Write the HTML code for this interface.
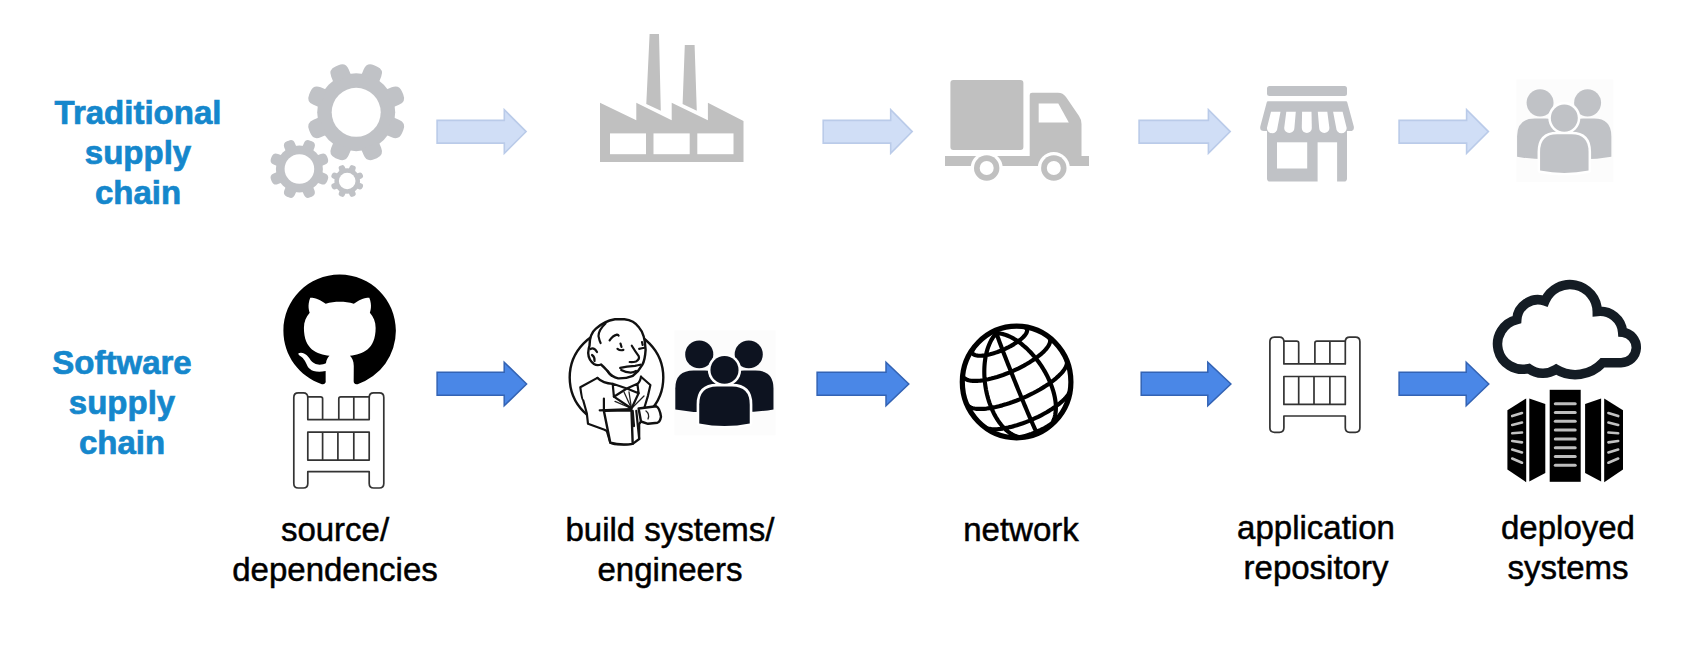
<!DOCTYPE html>
<html><head><meta charset="utf-8"><title>Supply chain</title>
<style>
html,body{margin:0;padding:0;background:#fff;}
body{width:1708px;height:662px;position:relative;overflow:hidden;font-family:"Liberation Sans",sans-serif;}
.t{position:absolute;text-align:center;font-size:33px;line-height:40px;white-space:nowrap;}
.h{font-weight:bold;color:#1587cc;-webkit-text-stroke:0.7px #1587cc;}
.l{color:#000;-webkit-text-stroke:0.5px #000;}
svg{position:absolute;left:0;top:0;}
</style></head><body>
<svg width="1708" height="662" viewBox="0 0 1708 662">
<circle cx="356.2" cy="112.3" r="39" fill="#c0c2c6"/>
<path d="M-9.5,-36 L-9.48,-42.34 Q-9.48,-50.3 -1.52,-50.3 L1.52,-50.3 Q9.48,-50.3 9.48,-42.34 L9.5,-36 Z" fill="#c0c2c6" transform="translate(356.2,112.3) rotate(22.5)"/>
<path d="M-9.5,-36 L-9.48,-42.34 Q-9.48,-50.3 -1.52,-50.3 L1.52,-50.3 Q9.48,-50.3 9.48,-42.34 L9.5,-36 Z" fill="#c0c2c6" transform="translate(356.2,112.3) rotate(67.5)"/>
<path d="M-9.5,-36 L-9.48,-42.34 Q-9.48,-50.3 -1.52,-50.3 L1.52,-50.3 Q9.48,-50.3 9.48,-42.34 L9.5,-36 Z" fill="#c0c2c6" transform="translate(356.2,112.3) rotate(112.5)"/>
<path d="M-9.5,-36 L-9.48,-42.34 Q-9.48,-50.3 -1.52,-50.3 L1.52,-50.3 Q9.48,-50.3 9.48,-42.34 L9.5,-36 Z" fill="#c0c2c6" transform="translate(356.2,112.3) rotate(157.5)"/>
<path d="M-9.5,-36 L-9.48,-42.34 Q-9.48,-50.3 -1.52,-50.3 L1.52,-50.3 Q9.48,-50.3 9.48,-42.34 L9.5,-36 Z" fill="#c0c2c6" transform="translate(356.2,112.3) rotate(202.5)"/>
<path d="M-9.5,-36 L-9.48,-42.34 Q-9.48,-50.3 -1.52,-50.3 L1.52,-50.3 Q9.48,-50.3 9.48,-42.34 L9.5,-36 Z" fill="#c0c2c6" transform="translate(356.2,112.3) rotate(247.5)"/>
<path d="M-9.5,-36 L-9.48,-42.34 Q-9.48,-50.3 -1.52,-50.3 L1.52,-50.3 Q9.48,-50.3 9.48,-42.34 L9.5,-36 Z" fill="#c0c2c6" transform="translate(356.2,112.3) rotate(292.5)"/>
<path d="M-9.5,-36 L-9.48,-42.34 Q-9.48,-50.3 -1.52,-50.3 L1.52,-50.3 Q9.48,-50.3 9.48,-42.34 L9.5,-36 Z" fill="#c0c2c6" transform="translate(356.2,112.3) rotate(337.5)"/>
<circle cx="356.2" cy="112.3" r="24.5" fill="#fff"/>
<circle cx="299.4" cy="169" r="23.5" fill="#c0c2c6"/>
<path d="M-5.72,-20.5 L-5.71,-25.5 Q-5.71,-30.3 -0.91,-30.3 L0.91,-30.3 Q5.71,-30.3 5.71,-25.5 L5.72,-20.5 Z" fill="#c0c2c6" transform="translate(299.4,169) rotate(22.5)"/>
<path d="M-5.72,-20.5 L-5.71,-25.5 Q-5.71,-30.3 -0.91,-30.3 L0.91,-30.3 Q5.71,-30.3 5.71,-25.5 L5.72,-20.5 Z" fill="#c0c2c6" transform="translate(299.4,169) rotate(67.5)"/>
<path d="M-5.72,-20.5 L-5.71,-25.5 Q-5.71,-30.3 -0.91,-30.3 L0.91,-30.3 Q5.71,-30.3 5.71,-25.5 L5.72,-20.5 Z" fill="#c0c2c6" transform="translate(299.4,169) rotate(112.5)"/>
<path d="M-5.72,-20.5 L-5.71,-25.5 Q-5.71,-30.3 -0.91,-30.3 L0.91,-30.3 Q5.71,-30.3 5.71,-25.5 L5.72,-20.5 Z" fill="#c0c2c6" transform="translate(299.4,169) rotate(157.5)"/>
<path d="M-5.72,-20.5 L-5.71,-25.5 Q-5.71,-30.3 -0.91,-30.3 L0.91,-30.3 Q5.71,-30.3 5.71,-25.5 L5.72,-20.5 Z" fill="#c0c2c6" transform="translate(299.4,169) rotate(202.5)"/>
<path d="M-5.72,-20.5 L-5.71,-25.5 Q-5.71,-30.3 -0.91,-30.3 L0.91,-30.3 Q5.71,-30.3 5.71,-25.5 L5.72,-20.5 Z" fill="#c0c2c6" transform="translate(299.4,169) rotate(247.5)"/>
<path d="M-5.72,-20.5 L-5.71,-25.5 Q-5.71,-30.3 -0.91,-30.3 L0.91,-30.3 Q5.71,-30.3 5.71,-25.5 L5.72,-20.5 Z" fill="#c0c2c6" transform="translate(299.4,169) rotate(292.5)"/>
<path d="M-5.72,-20.5 L-5.71,-25.5 Q-5.71,-30.3 -0.91,-30.3 L0.91,-30.3 Q5.71,-30.3 5.71,-25.5 L5.72,-20.5 Z" fill="#c0c2c6" transform="translate(299.4,169) rotate(337.5)"/>
<circle cx="299.4" cy="169" r="14.8" fill="#fff"/>
<circle cx="347.2" cy="181" r="12.8" fill="#c0c2c6"/>
<path d="M-3.12,-9.8 L-3.15,-14.06 Q-3.15,-16.7 -0.5,-16.7 L0.5,-16.7 Q3.15,-16.7 3.15,-14.06 L3.12,-9.8 Z" fill="#c0c2c6" transform="translate(347.2,181) rotate(22.5)"/>
<path d="M-3.12,-9.8 L-3.15,-14.06 Q-3.15,-16.7 -0.5,-16.7 L0.5,-16.7 Q3.15,-16.7 3.15,-14.06 L3.12,-9.8 Z" fill="#c0c2c6" transform="translate(347.2,181) rotate(67.5)"/>
<path d="M-3.12,-9.8 L-3.15,-14.06 Q-3.15,-16.7 -0.5,-16.7 L0.5,-16.7 Q3.15,-16.7 3.15,-14.06 L3.12,-9.8 Z" fill="#c0c2c6" transform="translate(347.2,181) rotate(112.5)"/>
<path d="M-3.12,-9.8 L-3.15,-14.06 Q-3.15,-16.7 -0.5,-16.7 L0.5,-16.7 Q3.15,-16.7 3.15,-14.06 L3.12,-9.8 Z" fill="#c0c2c6" transform="translate(347.2,181) rotate(157.5)"/>
<path d="M-3.12,-9.8 L-3.15,-14.06 Q-3.15,-16.7 -0.5,-16.7 L0.5,-16.7 Q3.15,-16.7 3.15,-14.06 L3.12,-9.8 Z" fill="#c0c2c6" transform="translate(347.2,181) rotate(202.5)"/>
<path d="M-3.12,-9.8 L-3.15,-14.06 Q-3.15,-16.7 -0.5,-16.7 L0.5,-16.7 Q3.15,-16.7 3.15,-14.06 L3.12,-9.8 Z" fill="#c0c2c6" transform="translate(347.2,181) rotate(247.5)"/>
<path d="M-3.12,-9.8 L-3.15,-14.06 Q-3.15,-16.7 -0.5,-16.7 L0.5,-16.7 Q3.15,-16.7 3.15,-14.06 L3.12,-9.8 Z" fill="#c0c2c6" transform="translate(347.2,181) rotate(292.5)"/>
<path d="M-3.12,-9.8 L-3.15,-14.06 Q-3.15,-16.7 -0.5,-16.7 L0.5,-16.7 Q3.15,-16.7 3.15,-14.06 L3.12,-9.8 Z" fill="#c0c2c6" transform="translate(347.2,181) rotate(337.5)"/>
<circle cx="347.2" cy="181" r="8.3" fill="#fff"/>
<path d="M646.3,103.9 L649.6,34 L659,34 L660.8,110.8 Z M682.6,103.9 L684.8,45 L694.6,45 L696.8,110.8 Z" fill="#c0c0c0"/>
<path d="M600,102.7 L636.3,120.3 L636.3,102.7 L671.7,120.3 L671.7,102.7 L707.9,120.3 L707.9,102.7 L743.5,121 L743.5,162 L600,162 Z" fill="#c0c0c0"/>
<rect x="610" y="133.4" width="36" height="20.8" fill="#fff"/><rect x="653.5" y="133.4" width="36.2" height="20.8" fill="#fff"/><rect x="697.3" y="133.4" width="36.2" height="20.8" fill="#fff"/>
<rect x="950.4" y="80" width="73" height="70" rx="3" fill="#c0c0c0"/>
<path d="M1029.7,156 L1029.7,95 Q1029.7,92.7 1032,92.7 L1058,92.7 Q1063,92.7 1066,97 L1079,116 Q1081.5,119.5 1081.5,124 L1081.5,156 Z" fill="#c0c0c0"/>
<path d="M1038.7,103.5 L1058.3,103.5 L1068.8,122.6 L1038.7,122.6 Z" fill="#fff"/>
<rect x="945" y="156" width="144" height="10" fill="#c0c0c0"/>
<circle cx="986.7" cy="168" r="16" fill="#fff"/><circle cx="986.7" cy="168" r="12.7" fill="#c0c0c0"/><circle cx="986.7" cy="168" r="7" fill="#fff"/>
<circle cx="1053.8" cy="168" r="16" fill="#fff"/><circle cx="1053.8" cy="168" r="12.7" fill="#c0c0c0"/><circle cx="1053.8" cy="168" r="7" fill="#fff"/>
<rect x="1267" y="86" width="80" height="10" rx="2.5" fill="#c0c2c6"/>
<path d="M1268,101.2 L1346,101.2 Q1347,101.2 1347.3,102.5 L1353.8,126.5 Q1354.5,131 1350,131 L1347,131 L1347,178.5 Q1347,181.6 1344,181.6 L1270,181.6 Q1267,181.6 1267,178.5 L1267,131 L1264,131 Q1259.5,131 1260.3,126.5 L1266.7,102.5 Q1267,101.2 1268,101.2 Z" fill="#c0c2c6"/>
<path d="M1271,111.7 L1280.5,111.7 L1277.4,128 A5.25,5.25 0 0 1 1266.9,128 Z" fill="#fff"/>
<path d="M1286.3,111.7 L1295.8,111.7 L1294.4,128 A5.1,5.1 0 0 1 1284.2,128 Z" fill="#fff"/>
<path d="M1302.1,111.7 L1311.5,111.7 L1311.8,128 A5,5 0 0 1 1301.8,128 Z" fill="#fff"/>
<path d="M1317.8,111.7 L1327.3,111.7 L1329.4,128 A5.1,5.1 0 0 1 1319.2,128 Z" fill="#fff"/>
<path d="M1333.1,111.7 L1342.6,111.7 L1346.7,128 A5.25,5.25 0 0 1 1336.2,128 Z" fill="#fff"/>
<rect x="1277" y="142.3" width="30.2" height="26.2" fill="#fff"/>
<rect x="1317.6" y="142.3" width="19.5" height="40" fill="#fff"/>
<g transform="translate(1516.3,79.3) scale(0.97,0.98)"><rect x="0" y="0" width="100" height="105" fill="#fcfcfc"/><path d="M0.8,79 L0.8,58 Q0.8,40 19,40 L30,40 Q46,40 46,58 L46,81 Q22,83 0.8,79 Z" fill="#c0c2c6"/><path d="M53,81 L53,58 Q53,40 69,40 L80,40 Q98,40 98,58 L98,79 Q76,83 53,81 Z" fill="#c0c2c6"/><circle cx="24.5" cy="24" r="13.9" fill="#c0c2c6"/><circle cx="73.5" cy="24" r="13.9" fill="#c0c2c6"/><circle cx="49.5" cy="39.5" r="16.5" fill="#fff"/><path d="M24.5,93 L24.5,74 Q24.5,56 42,56 L57,56 Q74.5,56 74.5,74 L74.5,93 Q49.5,98 24.5,93 Z" fill="#fff" stroke="#fff" stroke-width="5.2" stroke-linejoin="round"/><circle cx="49.5" cy="39.5" r="13.9" fill="#c0c2c6"/><path d="M24.5,93 L24.5,74 Q24.5,56 42,56 L57,56 Q74.5,56 74.5,74 L74.5,93 Q49.5,98 24.5,93 Z" fill="#c0c2c6"/></g>
<path d="M437.1,120.4 L504.3,120.4 L504.3,109.8 L526.1,131.6 L504.3,153.4 L504.3,143.1 L437.1,143.1 Z" fill="#d0def6" stroke="#bacbe9" stroke-width="1.6" stroke-linejoin="miter"/>
<path d="M823.2,120.4 L890.7,120.4 L890.7,109.8 L912.2,131.6 L890.7,153.4 L890.7,143.1 L823.2,143.1 Z" fill="#d0def6" stroke="#bacbe9" stroke-width="1.6" stroke-linejoin="miter"/>
<path d="M1139.1,120.4 L1208.4,120.4 L1208.4,109.8 L1230.2,131.6 L1208.4,153.4 L1208.4,143.1 L1139.1,143.1 Z" fill="#d0def6" stroke="#bacbe9" stroke-width="1.6" stroke-linejoin="miter"/>
<path d="M1399.1,120.4 L1466.6,120.4 L1466.6,109.8 L1488.4,131.6 L1466.6,153.4 L1466.6,143.1 L1399.1,143.1 Z" fill="#d0def6" stroke="#bacbe9" stroke-width="1.6" stroke-linejoin="miter"/>
<path d="M437.1,372.2 L504.2,372.2 L504.2,362.2 L526.6,384 L504.2,405.8 L504.2,395.3 L437.1,395.3 Z" fill="#4a87e7" stroke="#3363b4" stroke-width="1.5" stroke-linejoin="miter"/>
<path d="M817.1,372.2 L886,372.2 L886,362.2 L908.8,384 L886,405.8 L886,395.3 L817.1,395.3 Z" fill="#4a87e7" stroke="#3363b4" stroke-width="1.5" stroke-linejoin="miter"/>
<path d="M1141.2,372.2 L1207.8,372.2 L1207.8,362.2 L1230.9,384 L1207.8,405.8 L1207.8,395.3 L1141.2,395.3 Z" fill="#4a87e7" stroke="#3363b4" stroke-width="1.5" stroke-linejoin="miter"/>
<path d="M1399.1,372.2 L1466.2,372.2 L1466.2,362.2 L1488.8,384 L1466.2,405.8 L1466.2,395.3 L1399.1,395.3 Z" fill="#4a87e7" stroke="#3363b4" stroke-width="1.5" stroke-linejoin="miter"/>
<path d="M8 0C3.58 0 0 3.58 0 8c0 3.54 2.29 6.53 5.47 7.59.4.07.55-.17.55-.38 0-.19-.01-.82-.01-1.49-2.01.37-2.53-.49-2.69-.94-.09-.23-.48-.94-.82-1.13-.28-.15-.68-.52-.01-.53.63-.01 1.08.58 1.23.82.72 1.21 1.87.87 2.33.66.07-.52.28-.87.51-1.07-1.78-.2-3.64-.89-3.64-3.95 0-.87.31-1.59.82-2.15-.08-.2-.36-1.02.08-2.12 0 0 .67-.21 2.2.82.64-.18 1.32-.27 2-.27.68 0 1.36.09 2 .27 1.53-1.04 2.2-.82 2.2-.82.44 1.1.16 1.92.08 2.12.51.56.82 1.27.82 2.15 0 3.07-1.87 3.75-3.65 3.95.29.25.54.73.54 1.48 0 1.07-.01 1.93-.01 2.2 0 .21.15.46.55.38A8.013 8.013 0 0016 8c0-4.42-3.58-8-8-8z" fill="#000" transform="translate(283.4,274.6) scale(7.03)"/>
<g transform="translate(293.6,392.6)" fill="none" stroke="#333" stroke-width="1.7" stroke-linejoin="round"><path d="M0.2,4.8 Q0.2,0.3 4.7,0.3 L9.7,0.3 Q14.2,0.3 14.2,4.8 L14.2,27 L75.6,27 L75.6,4.8 Q75.6,0.3 80.1,0.3 L85.7,0.3 Q90.2,0.3 90.2,4.8 L90.2,90.9 Q90.2,95.4 85.7,95.4 L80.1,95.4 Q75.6,95.4 75.6,90.9 L75.6,79.1 L14.2,79.1 L14.2,90.9 Q14.2,95.4 9.7,95.4 L4.7,95.4 Q0.2,95.4 0.2,90.9 Z"/><path d="M14.2,4.2 L27,4.2 Q29,4.2 29,6.2 L29,27 M45.2,27 L45.2,6.2 Q45.2,4.2 47.2,4.2 L75.6,4.2 M60.2,4.2 L60.2,27 M14.2,39.6 L75.6,39.6 L75.6,67.5 L14.2,67.5 Z M29,39.6 L29,67.5 M44.3,39.6 L44.3,67.5 M60.2,39.6 L60.2,67.5"/></g>
<g transform="translate(1269.7,336.9)" fill="none" stroke="#333" stroke-width="1.7" stroke-linejoin="round"><path d="M0.2,4.8 Q0.2,0.3 4.7,0.3 L9.7,0.3 Q14.2,0.3 14.2,4.8 L14.2,27 L75.6,27 L75.6,4.8 Q75.6,0.3 80.1,0.3 L85.7,0.3 Q90.2,0.3 90.2,4.8 L90.2,90.9 Q90.2,95.4 85.7,95.4 L80.1,95.4 Q75.6,95.4 75.6,90.9 L75.6,79.1 L14.2,79.1 L14.2,90.9 Q14.2,95.4 9.7,95.4 L4.7,95.4 Q0.2,95.4 0.2,90.9 Z"/><path d="M14.2,4.2 L27,4.2 Q29,4.2 29,6.2 L29,27 M45.2,27 L45.2,6.2 Q45.2,4.2 47.2,4.2 L75.6,4.2 M60.2,4.2 L60.2,27 M14.2,39.6 L75.6,39.6 L75.6,67.5 L14.2,67.5 Z M29,39.6 L29,67.5 M44.3,39.6 L44.3,67.5 M60.2,39.6 L60.2,67.5"/></g>
<g transform="translate(674.5,330.4) scale(1.01,1)"><rect x="0" y="0" width="100" height="105" fill="#fcfcfc"/><path d="M0.8,79 L0.8,58 Q0.8,40 19,40 L30,40 Q46,40 46,58 L46,81 Q22,83 0.8,79 Z" fill="#0d1320"/><path d="M53,81 L53,58 Q53,40 69,40 L80,40 Q98,40 98,58 L98,79 Q76,83 53,81 Z" fill="#0d1320"/><circle cx="24.5" cy="24" r="13.9" fill="#0d1320"/><circle cx="73.5" cy="24" r="13.9" fill="#0d1320"/><circle cx="49.5" cy="39.5" r="16.5" fill="#fff"/><path d="M24.5,93 L24.5,74 Q24.5,56 42,56 L57,56 Q74.5,56 74.5,74 L74.5,93 Q49.5,98 24.5,93 Z" fill="#fff" stroke="#fff" stroke-width="5.2" stroke-linejoin="round"/><circle cx="49.5" cy="39.5" r="13.9" fill="#0d1320"/><path d="M24.5,93 L24.5,74 Q24.5,56 42,56 L57,56 Q74.5,56 74.5,74 L74.5,93 Q49.5,98 24.5,93 Z" fill="#0d1320"/></g>
<path d="M1025.86,436.98 L1024.77,437.15 L1023.68,437.24 L1022.57,437.28 L1021.46,437.24 L1020.34,437.13 L1019.22,436.96 L1018.1,436.72 L1016.97,436.42 L1015.84,436.05 L1014.72,435.61 L1013.59,435.11 L1012.47,434.54 L1011.35,433.91 L1010.25,433.21 L1009.14,432.46 L1008.05,431.64 L1006.97,430.76 L1005.9,429.82 L1004.84,428.82 L1003.8,427.77 L1002.77,426.66 L1001.76,425.5 L1000.77,424.28 L999.8,423.01 L998.84,421.69 L997.91,420.33 L997,418.91 L996.12,417.46 L995.26,415.95 L994.43,414.41 L993.62,412.83 L992.84,411.21 L992.09,409.55 L991.37,407.87 L990.68,406.14 L990.03,404.39 L989.4,402.62 L988.81,400.81 L988.25,398.99 L987.73,397.14 L987.24,395.28 L986.79,393.4 L986.37,391.5 L985.99,389.6 L985.65,387.68 L985.35,385.76 L985.08,383.83 L984.85,381.9 L984.66,379.97 L984.51,378.05 L984.4,376.13 L984.33,374.21 L984.3,372.31 L984.31,370.41 L984.35,368.53 L984.44,366.67 L984.56,364.83 L984.72,363 L984.93,361.2 L985.17,359.43 L985.45,357.68 L985.76,355.96 L986.12,354.28 L986.51,352.63 L986.94,351.01 L987.41,349.43 L987.91,347.89 L988.44,346.4 L989.01,344.94 L989.61,343.53 L990.25,342.17 L990.92,340.86 L991.62,339.59 L992.35,338.38 L993.11,337.22 L993.9,336.12 L994.71,335.07 L995.55,334.08 L996.42,333.15 M1037.41,433.54 L1037.36,433.53 L1037.27,433.45 L1037.17,433.31 L1037.04,433.11 L1036.88,432.85 L1036.7,432.52 L1036.49,432.14 L1036.26,431.69 L1036.01,431.18 L1035.73,430.61 L1035.43,429.99 L1035.11,429.3 L1034.76,428.56 L1034.39,427.76 L1034,426.9 L1033.59,425.99 L1033.16,425.03 L1032.7,424.01 L1032.23,422.94 L1031.74,421.83 L1031.23,420.66 L1030.7,419.45 L1030.16,418.19 L1029.6,416.89 L1029.02,415.54 L1028.43,414.15 L1027.82,412.73 L1027.2,411.27 L1026.57,409.77 L1025.93,408.24 L1025.27,406.67 L1024.6,405.08 L1023.93,403.45 L1023.24,401.81 L1022.55,400.13 L1021.85,398.44 L1021.14,396.72 L1020.43,394.99 L1019.71,393.24 L1018.99,391.48 L1018.26,389.71 L1017.54,387.92 L1016.81,386.13 L1016.08,384.34 L1015.35,382.54 L1014.63,380.74 L1013.9,378.94 L1013.18,377.15 L1012.47,375.36 L1011.76,373.58 L1011.05,371.81 L1010.36,370.05 L1009.67,368.31 L1008.98,366.58 L1008.31,364.88 L1007.65,363.19 L1007,361.53 L1006.36,359.89 L1005.73,358.28 L1005.11,356.7 L1004.51,355.14 L1003.93,353.63 L1003.36,352.14 L1002.8,350.69 L1002.27,349.28 L1001.75,347.91 L1001.25,346.58 L1000.76,345.3 L1000.3,344.06 L999.86,342.86 L999.43,341.72 L999.03,340.62 L998.65,339.57 L998.29,338.58 L997.95,337.63 L997.64,336.75 L997.35,335.91 L997.08,335.14 L996.84,334.42 L996.62,333.75 L996.42,333.15 M1047.94,427.57 L1048.75,426.92 L1049.52,426.23 L1050.24,425.48 L1050.93,424.67 L1051.58,423.82 L1052.18,422.91 L1052.74,421.95 L1053.26,420.94 L1053.73,419.89 L1054.15,418.79 L1054.53,417.65 L1054.87,416.46 L1055.16,415.23 L1055.4,413.96 L1055.59,412.65 L1055.74,411.31 L1055.83,409.92 L1055.88,408.51 L1055.89,407.06 L1055.84,405.58 L1055.75,404.07 L1055.61,402.54 L1055.42,400.98 L1055.18,399.4 L1054.9,397.79 L1054.57,396.17 L1054.19,394.53 L1053.77,392.87 L1053.31,391.2 L1052.79,389.52 L1052.24,387.83 L1051.64,386.14 L1051,384.44 L1050.31,382.73 L1049.59,381.03 L1048.82,379.32 L1048.02,377.62 L1047.18,375.93 L1046.3,374.24 L1045.38,372.56 L1044.43,370.89 L1043.45,369.24 L1042.43,367.6 L1041.38,365.98 L1040.3,364.38 L1039.19,362.8 L1038.06,361.24 L1036.89,359.71 L1035.71,358.21 L1034.5,356.73 L1033.27,355.29 L1032.01,353.88 L1030.74,352.5 L1029.46,351.16 L1028.15,349.86 L1026.83,348.59 L1025.5,347.37 L1024.16,346.19 L1022.81,345.05 L1021.46,343.96 L1020.09,342.91 L1018.72,341.91 L1017.35,340.96 L1015.98,340.06 L1014.61,339.21 L1013.24,338.41 L1011.88,337.67 L1010.52,336.98 L1009.17,336.35 L1007.83,335.77 L1006.5,335.24 L1005.18,334.78 L1003.87,334.37 L1002.58,334.02 L1001.31,333.73 L1000.06,333.49 L998.82,333.32 L997.61,333.21 L996.42,333.15 M1011.73,437.58 L1012.95,437.65 L1014.27,437.65 L1015.68,437.58 L1017.18,437.44 L1018.76,437.22 L1020.41,436.94 L1022.13,436.59 L1023.9,436.18 L1025.71,435.7 L1027.57,435.15 L1029.45,434.55 L1031.36,433.89 L1033.27,433.18 L1035.19,432.42 L1037.09,431.61 L1038.98,430.76 L1040.85,429.88 L1042.68,428.96 L1044.46,428.01 L1046.19,427.03 L1047.86,426.04 L1049.46,425.03 L1050.98,424.01 L1052.41,422.98 L1053.76,421.96 L1055,420.94 L1056.14,419.93 L1057.17,418.93 L1058.09,417.96 L1058.88,417.01 M984.33,426.87 L985.35,427.54 L986.58,428.11 L988,428.56 L989.6,428.91 L991.39,429.14 L993.35,429.26 L995.46,429.26 L997.73,429.14 L1000.14,428.92 L1002.67,428.57 L1005.33,428.12 L1008.08,427.56 L1010.92,426.89 L1013.84,426.12 L1016.82,425.25 L1019.84,424.28 L1022.9,423.23 L1025.98,422.08 L1029.05,420.86 L1032.12,419.57 L1035.15,418.2 L1038.15,416.78 L1041.08,415.3 L1043.94,413.77 L1046.72,412.21 L1049.4,410.61 L1051.97,408.99 L1054.41,407.35 L1056.72,405.71 L1058.88,404.06 L1060.88,402.42 L1062.71,400.8 L1064.36,399.2 L1065.83,397.64 L1067.11,396.11 L1068.19,394.63 L1069.06,393.2 L1069.73,391.84 L1070.19,390.54 L1070.43,389.31 M966.88,404.34 L967.58,405.34 L968.51,406.23 L969.69,407 L971.09,407.64 L972.71,408.16 L974.55,408.55 L976.59,408.82 L978.83,408.95 L981.25,408.95 L983.84,408.82 L986.59,408.56 L989.49,408.17 L992.52,407.66 L995.67,407.01 L998.92,406.25 L1002.26,405.37 L1005.67,404.37 L1009.13,403.27 L1012.62,402.06 L1016.14,400.75 L1019.65,399.35 L1023.16,397.87 L1026.63,396.31 L1030.05,394.68 L1033.41,392.99 L1036.68,391.25 L1039.86,389.46 L1042.92,387.63 L1045.85,385.78 L1048.65,383.91 L1051.28,382.03 L1053.75,380.14 L1056.04,378.27 L1058.13,376.42 L1060.02,374.59 L1061.7,372.8 L1063.17,371.05 L1064.4,369.36 L1065.4,367.73 L1066.16,366.17 L1066.68,364.68 L1066.96,363.28 L1066.99,361.98 L1066.78,360.76 M962.9,373.78 L962.87,374.92 L963.05,375.97 L963.45,376.92 L964.05,377.79 L964.87,378.56 L965.88,379.22 L967.1,379.78 L968.5,380.23 L970.09,380.57 L971.86,380.8 L973.8,380.92 L975.9,380.92 L978.14,380.8 L980.53,380.58 L983.04,380.24 L985.66,379.79 L988.39,379.24 L991.2,378.58 L994.09,377.81 L997.04,376.95 L1000.04,375.99 L1003.06,374.95 L1006.11,373.81 L1009.16,372.6 L1012.19,371.32 L1015.19,369.97 L1018.16,368.56 L1021.06,367.09 L1023.9,365.58 L1026.65,364.03 L1029.3,362.45 L1031.85,360.85 L1034.26,359.23 L1036.55,357.6 L1038.68,355.97 L1040.66,354.35 L1042.48,352.74 L1044.12,351.16 L1045.57,349.61 L1046.84,348.1 L1047.91,346.63 L1048.77,345.22 L1049.43,343.86 L1049.89,342.58 L1050.13,341.37 L1050.15,340.23 L1049.97,339.18 L1049.57,338.22 L1048.97,337.36 L1048.15,336.59 M974.32,346.99 L973.64,347.91 L973.1,348.8 L972.68,349.65 L972.4,350.46 L972.25,351.22 L972.23,351.94 L972.35,352.6 L972.6,353.2 L972.98,353.74 L973.49,354.23 L974.13,354.64 L974.89,355 L975.77,355.28 L976.77,355.49 L977.89,355.64 L979.11,355.71 L980.42,355.71 L981.84,355.64 L983.34,355.5 L984.91,355.29 L986.56,355 L988.28,354.65 L990.05,354.24 L991.87,353.76 L993.72,353.22 L995.61,352.61 L997.51,351.96 L999.42,351.24 L1001.34,350.48 L1003.25,349.68 L1005.14,348.83 L1007,347.94 L1008.83,347.02 L1010.61,346.07 L1012.34,345.09 L1014.01,344.1 L1015.61,343.09 L1017.13,342.07 L1018.57,341.04 L1019.91,340.02 L1021.16,339 L1022.3,337.99 L1023.33,337 L1024.24,336.02 L1025.04,335.07 L1025.71,334.15 L1026.26,333.26 L1026.67,332.41 L1026.96,331.6 L1027.11,330.84 L1027.12,330.12 L1027.01,329.47 L1026.76,328.86 L1026.38,328.32 L1025.87,327.84 L1025.23,327.42 L1024.46,327.07 L1023.58,326.78 L1022.58,326.57 L1021.47,326.42" fill="none" stroke="#000" stroke-width="4.16" stroke-linecap="round" stroke-linejoin="round"/><ellipse cx="1016.6" cy="382" rx="54.3" ry="55.8" fill="none" stroke="#000" stroke-width="5.2"/>
<path d="M1528.78,368.58 A25.25,25.25 0 0 1 1516.80,319.52 A21.25,21.25 0 0 1 1545.01,300.94 A27.25,27.25 0 0 1 1597.25,311.42 A22.75,22.75 0 0 1 1622.69,332.34 A15.25,15.25 0 0 1 1621.00,362.75 L1602.60,362.75 A37.25,37.25 0 0 1 1556.23,369.32 A24.05,24.05 0 0 1 1528.78,368.58 Z" fill="none" stroke="#141c24" stroke-width="9.5" stroke-linejoin="miter" stroke-miterlimit="10"/>
<rect x="1549.7" y="389.8" width="31" height="92" fill="#000"/>
<rect x="1553.8" y="402.2" width="22.9" height="3" rx="1.5" fill="#bdbdbd"/>
<rect x="1553.8" y="411" width="22.9" height="3" rx="1.5" fill="#bdbdbd"/>
<rect x="1553.8" y="419.8" width="22.9" height="3" rx="1.5" fill="#bdbdbd"/>
<rect x="1553.8" y="428.6" width="22.9" height="3" rx="1.5" fill="#bdbdbd"/>
<rect x="1553.8" y="437.4" width="22.9" height="3" rx="1.5" fill="#bdbdbd"/>
<rect x="1553.8" y="446.2" width="22.9" height="3" rx="1.5" fill="#bdbdbd"/>
<rect x="1553.8" y="455" width="22.9" height="3" rx="1.5" fill="#bdbdbd"/>
<rect x="1553.8" y="463.8" width="22.9" height="3" rx="1.5" fill="#bdbdbd"/>
<g><path d="M1507.4,410.2 L1526.2,398.4 L1526.2,482.2 L1507.4,469.4 Z" fill="#000"/><path d="M1529.3,398.4 L1545.3,404.1 L1545.3,473 L1529.3,481.5 Z" fill="#000"/><path d="M1512.2,416.1 L1522,413" stroke="#c2c2c2" stroke-width="2.6" stroke-linecap="round"/><path d="M1512.2,425 L1522,422.5" stroke="#c2c2c2" stroke-width="2.6" stroke-linecap="round"/><path d="M1512.2,433.2 L1522,432.5" stroke="#c2c2c2" stroke-width="2.6" stroke-linecap="round"/><path d="M1512.2,441 L1522,442.4" stroke="#c2c2c2" stroke-width="2.6" stroke-linecap="round"/><path d="M1512.2,449.5 L1522,452.4" stroke="#c2c2c2" stroke-width="2.6" stroke-linecap="round"/><path d="M1512.2,458.5 L1522,462.7" stroke="#c2c2c2" stroke-width="2.6" stroke-linecap="round"/></g>
<g transform="translate(3130.4,0) scale(-1,1)"><path d="M1507.4,410.2 L1526.2,398.4 L1526.2,482.2 L1507.4,469.4 Z" fill="#000"/><path d="M1529.3,398.4 L1545.3,404.1 L1545.3,473 L1529.3,481.5 Z" fill="#000"/><path d="M1512.2,416.1 L1522,413" stroke="#c2c2c2" stroke-width="2.6" stroke-linecap="round"/><path d="M1512.2,425 L1522,422.5" stroke="#c2c2c2" stroke-width="2.6" stroke-linecap="round"/><path d="M1512.2,433.2 L1522,432.5" stroke="#c2c2c2" stroke-width="2.6" stroke-linecap="round"/><path d="M1512.2,441 L1522,442.4" stroke="#c2c2c2" stroke-width="2.6" stroke-linecap="round"/><path d="M1512.2,449.5 L1522,452.4" stroke="#c2c2c2" stroke-width="2.6" stroke-linecap="round"/><path d="M1512.2,458.5 L1522,462.7" stroke="#c2c2c2" stroke-width="2.6" stroke-linecap="round"/></g>
<ellipse cx="616.5" cy="377.5" rx="46.8" ry="48" fill="none" stroke="#111" stroke-width="2.4"/>
<path d="M597.4,377.9 L580.3,387.3 Q582,400 583.2,400.3 L586.8,413.2 L588,423.8 L604.5,429.7 L606.8,430.9 L610.3,442.7 Q615,445.5 632.7,443.9 L639.2,439 L639.2,424 L641,421.5 L644.5,407.3 L648,395.6 L650.4,385 L641,376.7 Z" fill="#fff"/>
<path d="M597.4,377.9 L580.3,387.3 Q582,400 583.2,400.3 L586.8,413.2 L588,423.8 L604.5,429.7 L606.8,430.9 L610.3,442.7 Q615,445.5 632.7,443.9 L639.2,439 L639.2,424 L641,421.5 L644.5,407.3 L648,395.6 L650.4,385 L641,376.7" fill="none" stroke="#111" stroke-width="2.2" stroke-linejoin="round" stroke-linecap="round" stroke-width="2.4"/>
<path d="M638.6,408.5 L656.3,406.2 Q659.8,408 661,416.8 Q660,422 657.5,422.7 L648,423.8 L641,421.5 Z" fill="#fff" stroke="#111" stroke-width="2.4" stroke-linejoin="round" stroke-linecap="round"/>
<path d="M646,411 Q650,414 648,419" fill="none" stroke="#222" stroke-width="1.3" stroke-linejoin="round" stroke-linecap="round"/>
<path d="M603.9,410.9 L631.5,410.2 L632.7,443.9 Q620,445.5 610.3,442.7 Z" fill="#fff" stroke="#111" stroke-width="2.4" stroke-linejoin="round" stroke-linecap="round"/>
<path d="M599.7,410.3 L630.4,409.1 M603.9,398.5 L603.9,411" fill="none" stroke="#111" stroke-width="2.2" stroke-linejoin="round" stroke-linecap="round"/>
<path d="M632.7,410.9 L634,426.2 M636.3,410.9 L639.2,439" fill="none" stroke="#111" stroke-width="2.2" stroke-linejoin="round" stroke-linecap="round" stroke-width="1.8"/>
<path d="M597.4,377.9 Q603,383.5 612.7,383.8 M641,376.7 Q640,382 637.4,383.8" fill="none" stroke="#111" stroke-width="2.2" stroke-linejoin="round" stroke-linecap="round"/>
<path d="M626.8,388.5 L612.7,383.8 L613.9,396.7 Z M626.8,388.5 L637.4,383.8 L638.6,393.2 Z" fill="none" stroke="#111" stroke-width="2.2" stroke-linejoin="round" stroke-linecap="round" fill="#fff"/>
<path d="M615,401.4 L631.5,408.5 L644,396 M624,392 L631.5,408.5 M629,392 L631.5,408.5" fill="none" stroke="#222" stroke-width="1.3" stroke-linejoin="round" stroke-linecap="round"/>
<path d="M613.9,396.7 L631.5,408.5 M638.6,393.2 L631.5,408.5" fill="none" stroke="#111" stroke-width="2.2" stroke-linejoin="round" stroke-linecap="round" stroke-width="1.8"/>
<path d="M589.5,345.7 Q589.5,334 595.9,328.7 Q604,321 614.9,319.2 L624.4,319.2 Q634,320 639.2,327.7 Q645,334 645.6,349.9 Q645,360 642.4,364.7 Q638.7,371.5 632.9,375.8 Q626,378.6 618.1,378.4 Q611.7,377 607.5,371 Q604,367 601,364.5 Q597,366 594,364 Q588.5,360 588.2,353 Q588.5,348 589.5,345.7 Z" fill="#fff" stroke="#111" stroke-width="2.4" stroke-linejoin="round" stroke-linecap="round" stroke-width="2.8"/>
<path d="M605.5,323.5 Q598.5,330 598.5,336.1 Q599.5,341 600.6,343 M590.5,349 Q594,347 597,352 M592,355 Q595,357 594.5,361" fill="none" stroke="#111" stroke-width="2.2" stroke-linejoin="round" stroke-linecap="round"/>
<path d="M609.6,340.4 Q612.8,335.6 617,334.6 Q618.3,334.8 618.6,335.6" fill="none" stroke="#111" stroke-width="2.2" stroke-linejoin="round" stroke-linecap="round" stroke-width="2.6"/>
<path d="M617.5,348.8 Q620.2,351 623.4,349.9 M620.5,343.5 L621.5,347 M639.2,348.8 Q642,348.5 644.5,347.8 M642,342 L642.7,345" fill="none" stroke="#111" stroke-width="2.2" stroke-linejoin="round" stroke-linecap="round"/>
<path d="M631.8,345.7 Q635,351 638.7,356.2 Q640,359.4 636,361.5 Q633,362.3 629.7,362" fill="none" stroke="#111" stroke-width="2.2" stroke-linejoin="round" stroke-linecap="round"/>
<path d="M620.2,367.9 Q626.5,366.3 635,365.8 Q638,365.3 640.3,364.7" fill="none" stroke="#111" stroke-width="2.2" stroke-linejoin="round" stroke-linecap="round" stroke-width="2.8"/>
<path d="M621.2,370 Q625.5,372.4 630.8,372.6 Q634,372.2 636,371" fill="none" stroke="#111" stroke-width="2.2" stroke-linejoin="round" stroke-linecap="round"/>
<path d="M607.5,371 Q609,374 611.7,375.8" fill="none" stroke="#111" stroke-width="2.2" stroke-linejoin="round" stroke-linecap="round"/>
</svg>
<div class="t h" style="left:38px;width:200px;top:92.5px">Traditional<br>supply<br>chain</div>
<div class="t h" style="left:22px;width:200px;top:342.5px">Software<br>supply<br>chain</div>
<div class="t l" style="left:185px;width:300px;top:510px">source/<br>dependencies</div>
<div class="t l" style="left:520px;width:300px;top:510px">build systems/<br>engineers</div>
<div class="t l" style="left:871px;width:300px;top:510px">network</div>
<div class="t l" style="left:1166px;width:300px;top:508px">application<br>repository</div>
<div class="t l" style="left:1418px;width:300px;top:508px">deployed<br>systems</div>
</body></html>
